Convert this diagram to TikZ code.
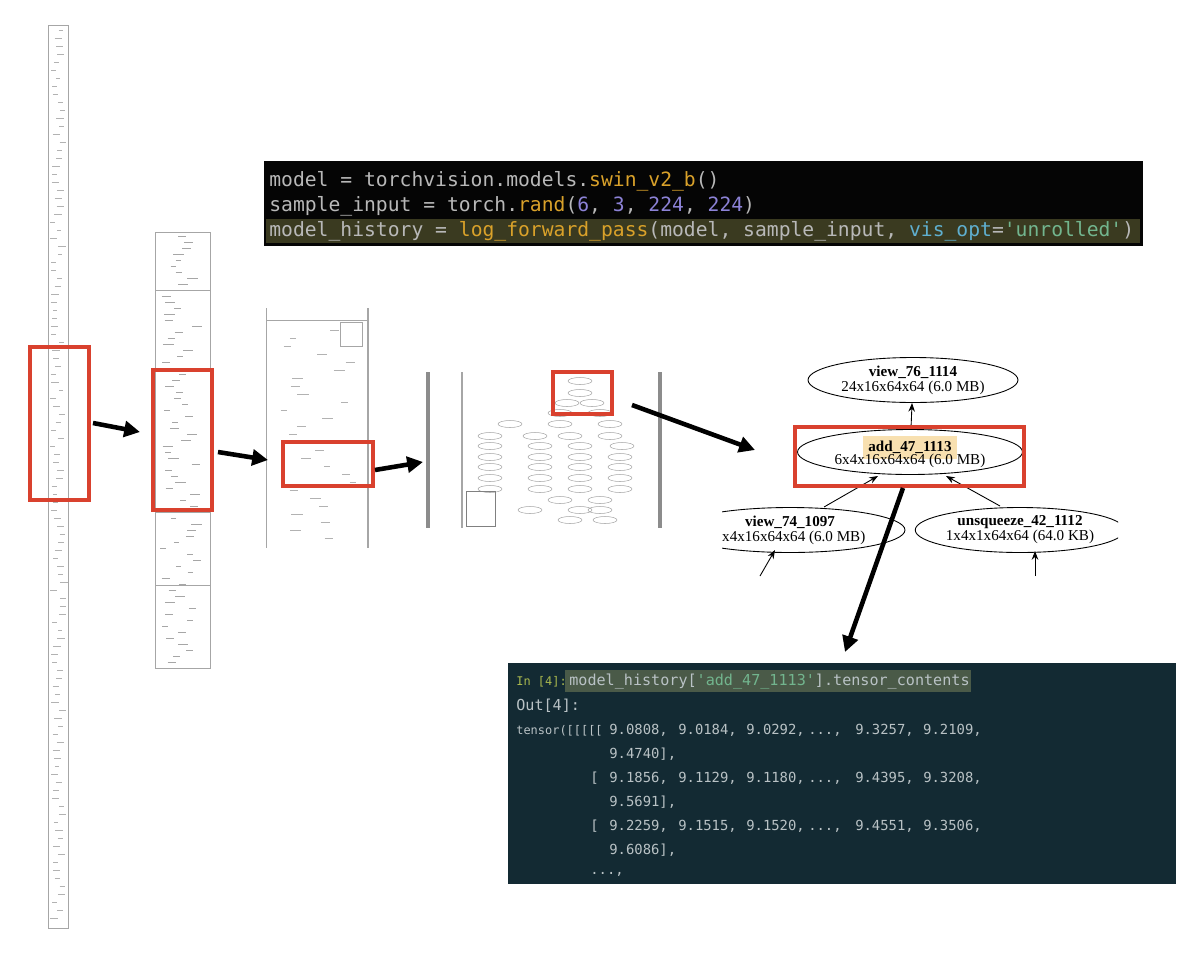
\documentclass[tikz,border=0pt]{standalone}
\usepackage{fontspec}
\usetikzlibrary{arrows.meta, shapes.geometric}
\newfontfamily\codefont{DejaVu Sans Mono}
\newfontfamily\graphfont{Liberation Serif}
\definecolor{codebg}{HTML}{050505}
\definecolor{codehl}{HTML}{3A3A20}
\definecolor{codetxt}{HTML}{B8B8B8}
\definecolor{codefn}{HTML}{D9A12A}
\definecolor{codenum}{HTML}{8C82D6}
\definecolor{codekw}{HTML}{5FAFCF}
\definecolor{codestr}{HTML}{72B58E}
\definecolor{nbbg}{HTML}{132A33}
\definecolor{nbtxt}{HTML}{B9C2C5}
\definecolor{nbin}{HTML}{A9B84E}
\definecolor{nbhl}{HTML}{4A5A48}
\definecolor{boxred}{HTML}{D9412E}
\definecolor{hlnode}{HTML}{F8E0B0}
\newcommand{\tcol}[2]{\makebox[#1cm][l]{#2}}
\newcommand{\trow}[7]{\tcol{1.86}{#1}\tcol{1.38}{#2}\tcol{1.36}{#3}\tcol{1.24}{#4}\tcol{0.94}{...,}\tcol{1.36}{#5}\tcol{1.2}{#6}#7}

\begin{document}
\begin{tikzpicture}[x=0.02cm, y=-0.02cm]
\tikzstyle{redbox} = [draw=boxred, line width=2.2pt]
\tikzstyle{zoom arrow} = [-{Triangle[length=9pt,width=9pt]}, line width=2.6pt, black]
\tikzstyle{thumb} = [draw=black!35, line width=0.4pt]
\tikzstyle{op} = [ellipse, draw=black, line width=0.5pt, font=\graphfont\fontsize{8.6}{8.6}\selectfont, align=center, inner sep=0pt]
\tikzstyle{edge} = [-{Stealth[length=5pt]}, line width=0.5pt]
\tikzstyle{codeline} = [anchor=west, inner sep=0pt, font=\codefont\fontsize{11.2}{13}\selectfont, text=codetxt]
\tikzstyle{nbline} = [anchor=west, inner sep=0pt, font=\codefont\fontsize{8.6}{10}\selectfont, text=nbtxt]
\tikzstyle{numline} = [anchor=west, inner sep=0pt, font=\codefont\fontsize{7.9}{10}\selectfont, text=nbtxt]

\useasboundingbox (0,0) rectangle (1200,967);

% thumbnails of the unrolled graph
\draw[thumb] (48,25) rectangle (68,928);
\pgfmathsetseed{7}
\foreach \y in {30,38,...,920} {
  \pgfmathsetmacro{\xa}{50+rnd*10}
  \draw[black!30, line width=0.3pt] (\xa,\y) -- ++(4+rnd*4,0);
}
\draw[thumb] (155,232) rectangle (210,668);
\foreach \y in {290,370,512,585} \draw[thumb] (155,\y) -- (210,\y);
\foreach \y in {236,242,...,664} {
  \pgfmathsetmacro{\xa}{160+rnd*35}
  \draw[black!35, line width=0.3pt] (\xa,\y) -- ++(5+rnd*6,0);
}
\draw[thumb] (266,308) -- (266,548);
\draw[thumb, line width=1pt] (368,308) -- (368,548);
\draw[thumb] (266,320) -- (368,320);
\draw[thumb] (340,322) rectangle (362,346);
\foreach \y in {330,338,...,545} {
  \pgfmathsetmacro{\xa}{280+rnd*70}
  \draw[black!30, line width=0.3pt] (\xa,\y) -- ++(6+rnd*6,0);
}
\draw[black!45, line width=2pt] (428,372) -- (428,528);
\draw[black!35, line width=0.8pt] (462,372) -- (462,528);
\draw[black!45, line width=2pt] (660,372) -- (660,528);
\foreach \cx/\cy in {580/381,580/393,567/403,592/403,560/413,600/413,
  510/424,560/424,610/424,490/436,535/436,570/436,610/436,
  490/446,540/446,580/446,622/446,490/457,540/457,580/457,620/457,
  490/467,540/467,580/467,620/467,490/478,540/478,580/478,620/478,
  490/489,540/489,580/489,620/489,560/500,600/500,530/510,580/510,600/510,
  570/520,605/520}
  \draw[black!35, line width=0.3pt] (\cx,\cy) ellipse (12 and 3.5);
\draw[black!50, line width=0.4pt] (466,491) rectangle (495,526);

% red zoom boxes
\node[redbox, minimum width=1.18cm, minimum height=3.06cm, anchor=north west] (zoomA) at (28,345) {};
\node[redbox, minimum width=1.18cm, minimum height=2.80cm, anchor=north west] (zoomB) at (151,368) {};
\node[redbox, minimum width=1.80cm, minimum height=0.88cm, anchor=north west] (zoomC) at (281,440) {};
\node[redbox, minimum width=1.18cm, minimum height=0.84cm, anchor=north west] (zoomD) at (551,370) {};

% graph fragment
\begin{scope}
\clip (722,350) rectangle (1118,590);
\node[op, minimum width=4.2cm, minimum height=0.9cm] (view76) at (913,380)
  {\textbf{view\_76\_1114}\\24x16x64x64 (6.0 MB)};
\node[op, minimum width=4.5cm, minimum height=0.9cm] (add47) at (910,452)
  {\colorbox{hlnode}{\textbf{add\_47\_1113}}\\[-4pt]6x4x16x64x64 (6.0 MB)};
\node[op, minimum width=4.6cm, minimum height=0.9cm] (view74) at (790,530)
  {\textbf{view\_74\_1097}\\6x4x16x64x64 (6.0 MB)};
\node[op, minimum width=3.9cm, minimum height=0.9cm] (unsq42) at (1020,530)
  {\textbf{unsqueeze\_42\_1112}\\1x4x1x64x64 (64.0 KB)};
\coordinate (inA) at (760,576);
\coordinate (inB) at (1035,576);
\coordinate (eA) at (824,507);
\coordinate (eB) at (1000,506);
\draw[edge] (add47) -- (view76);
\draw[edge] (eA) -- (878,476);
\draw[edge] (eB) -- (946,476);
\draw[edge] (inA) -- (775,550);
\draw[edge] (inB) -- (1035,551);
\end{scope}
\node[redbox, minimum width=4.58cm, minimum height=1.18cm, anchor=north west] (zoomE) at (793,425) {};

% arrows between zoom levels
\coordinate (aA) at (93,423);  \coordinate (bA) at (140,432);
\coordinate (aB) at (218,452); \coordinate (bB) at (268,460);
\coordinate (aC) at (375,470); \coordinate (bC) at (423,462);
\coordinate (aD) at (632,405); \coordinate (bD) at (755,450);
\coordinate (aE) at (903,488); \coordinate (bE) at (845,652);
\draw[zoom arrow] (aA) -- (bA);
\draw[zoom arrow] (aB) -- (bB);
\draw[zoom arrow] (aC) -- (bC);
\draw[zoom arrow] (aD) -- (bD);
\draw[zoom arrow] (aE) -- (bE);

% code cell
\fill[codebg] (264,161) rectangle (1143,246);
\fill[codehl] (266,219) rectangle (1140,243);
\node[codeline] (code1) at (269,181) {model = torchvision.models.\textcolor{codefn}{swin\_v2\_b}()};
\node[codeline] (code2) at (269,206) {sample\_input = torch.\textcolor{codefn}{rand}(\textcolor{codenum}{6}, \textcolor{codenum}{3}, \textcolor{codenum}{224}, \textcolor{codenum}{224})};
\node[codeline] (code3) at (269,231) {model\_history = \textcolor{codefn}{log\_forward\_pass}(model, sample\_input, \textcolor{codekw}{vis\_opt}=\textcolor{codestr}{'unrolled'})};

% notebook output
\fill[nbbg] (508,663) rectangle (1176,884);
\fill[nbhl] (565,670) rectangle (971,692);
\node[nbline] (nbin) at (516,681) {\tcol{1.06}{\fontsize{6.8}{10}\selectfont\textcolor{nbin}{In [4]:}}model\_history[\textcolor{codestr}{'add\_47\_1113'}].tensor\_contents};
\node[nbline] (nbout) at (516,706) {Out[4]:};
\node[numline] (row1) at (516,730) {\trow{\fontsize{6.8}{10}\selectfont tensor([[[[[}{9.0808,}{9.0184,}{9.0292,}{9.3257,}{9.2109,}{}};
\node[numline] (row1b) at (516,754) {\tcol{1.86}{}9.4740],};
\node[numline] (row2) at (516,778) {\trow{\hspace{1.48cm}[}{9.1856,}{9.1129,}{9.1180,}{9.4395,}{9.3208,}{}};
\node[numline] (row2b) at (516,802) {\tcol{1.86}{}9.5691],};
\node[numline] (row3) at (516,826) {\trow{\hspace{1.48cm}[}{9.2259,}{9.1515,}{9.1520,}{9.4551,}{9.3506,}{}};
\node[numline] (row3b) at (516,850) {\tcol{1.86}{}9.6086],};
\node[numline] (row4) at (516,874) {\hspace{1.48cm}...,};
\end{tikzpicture}
\end{document}
